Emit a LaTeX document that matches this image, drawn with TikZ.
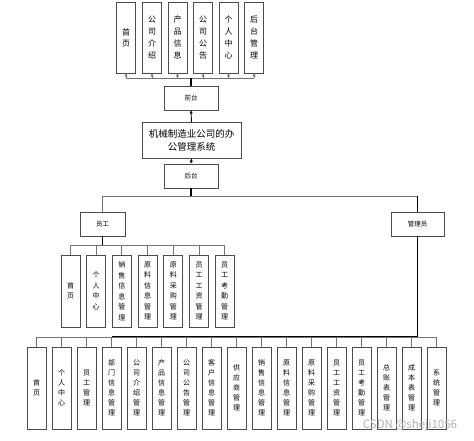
\documentclass[tikz,border=0pt]{standalone}
\usepackage{fontspec}
\setmainfont{Noto Sans CJK SC}
\usetikzlibrary{arrows.meta}

\tikzset{
  box/.style={draw=black!70, line width=0.9pt, fill=white, align=center,
    inner sep=0pt, font=\fontsize{6.5}{8}\selectfont},
  colbox/.style={box, minimum width=19pt, font=\fontsize{7}{#1}\selectfont},
  bus/.style={draw=black!55, line width=0.9pt},
  trunk/.style={draw=black, line width=1.5pt},
  tip/.style={-{Triangle[length=3pt,width=3pt]}}
}

\begin{document}
\begin{tikzpicture}[x=1pt,y=-1pt]
\useasboundingbox (0,0) rectangle (474,440);

% rangée du haut
\node[colbox=11, minimum height=71pt, font=\fontsize{8}{11}\selectfont] (q1) at (126,37.5) {首\\页};
\node[colbox=12, minimum height=71pt, font=\fontsize{8}{12}\selectfont] (q2) at (152,37.5) {公\\司\\介\\绍};
\node[colbox=12, minimum height=71pt, font=\fontsize{8}{12}\selectfont] (q3) at (177.5,37.5) {产\\品\\信\\息};
\node[colbox=12, minimum height=71pt, font=\fontsize{8}{12}\selectfont] (q4) at (203,37.5) {公\\司\\公\\告};
\node[colbox=12, minimum height=71pt, font=\fontsize{8}{12}\selectfont] (q5) at (228.5,37.5) {个\\人\\中\\心};
\node[colbox=12, minimum height=71pt, font=\fontsize{8}{12}\selectfont] (q6) at (254,37.5) {后\\台\\管\\理};

\node[box, minimum width=54pt, minimum height=24pt] (qt) at (191,98) {前台};
\node[box, minimum width=99pt, minimum height=36pt, font=\fontsize{9.5}{13}\selectfont]
  (sys) at (191.5,140.5) {机械制造业公司的办\\公管理系统};
\node[box, minimum width=54pt, minimum height=24pt] (ht) at (191,176) {后台};

\node[box, minimum width=45pt, minimum height=24pt] (yg) at (102.5,224) {员工};
\node[box, minimum width=53pt, minimum height=24pt] (gly) at (417.5,224) {管理员};

%员工
\node[colbox=10.5, minimum height=72pt] (y1) at (70.5,291) {首\\页};
\node[colbox=10.5, minimum height=72pt] (y2) at (96.2,291) {个\\人\\中\\心};
\node[colbox=10.5, minimum height=72pt] (y3) at (121.9,291) {销\\售\\信\\息\\管\\理};
\node[colbox=10.5, minimum height=72pt] (y4) at (147.6,291) {原\\料\\信\\息\\管\\理};
\node[colbox=10.5, minimum height=72pt] (y5) at (173.3,291) {原\\料\\采\\购\\管\\理};
\node[colbox=10.5, minimum height=72pt] (y6) at (199,291) {员\\工\\工\\资\\管\\理};
\node[colbox=10.5, minimum height=72pt] (y7) at (224.7,291) {员\\工\\考\\勤\\管\\理};

% 管理员
\node[colbox=10, minimum height=82pt] (g1) at (36.5,388) {首\\页};
\node[colbox=10, minimum height=82pt] (g2) at (61.5,388) {个\\人\\中\\心};
\node[colbox=10, minimum height=82pt] (g3) at (86.5,388) {员\\工\\管\\理};
\node[colbox=10, minimum height=82pt] (g4) at (111.5,388) {部\\门\\信\\息\\管\\理};
\node[colbox=10, minimum height=82pt] (g5) at (136.5,388) {公\\司\\介\\绍\\管\\理};
\node[colbox=10, minimum height=82pt] (g6) at (161.5,388) {产\\品\\信\\息\\管\\理};
\node[colbox=10, minimum height=82pt] (g7) at (186.5,388) {公\\司\\公\\告\\管\\理};
\node[colbox=10, minimum height=82pt] (g8) at (211.5,388) {客\\户\\信\\息\\管\\理};
\node[colbox=10, minimum height=82pt] (g9) at (236.5,388) {供\\应\\商\\管\\理};
\node[colbox=10, minimum height=82pt] (g10) at (261.5,388) {销\\售\\信\\息\\管\\理};
\node[colbox=10, minimum height=82pt] (g11) at (286.5,388) {原\\料\\信\\息\\管\\理};
\node[colbox=10, minimum height=82pt] (g12) at (311.5,388) {原\\料\\采\\购\\管\\理};
\node[colbox=10, minimum height=82pt] (g13) at (336.5,388) {员\\工\\工\\资\\管\\理};
\node[colbox=10, minimum height=82pt] (g14) at (361.5,388) {员\\工\\考\\勤\\管\\理};
\node[colbox=10, minimum height=82pt] (g15) at (386.5,388) {总\\账\\表\\管\\理};
\node[colbox=10, minimum height=82pt] (g16) at (411.5,388) {成\\本\\表\\管\\理};
\node[colbox=10, minimum height=82pt] (g17) at (436.5,388) {系\\统\\管\\理};

% liaisons
\draw[bus] (q1.south |- 0,78) -- (q6.south |- 0,78);
\foreach \n in {q1,q2,q3,q4,q5,q6}
  \draw[bus, tip] (\n.south |- 0,78) -- (\n.south);
\draw[trunk] (qt.north) -- (qt.north |- 0,78);
\draw[tip, line width=0.9pt] (sys.north) -- (qt.south);
\draw[tip, line width=0.9pt] (sys.south) -- (ht.north);

\draw[trunk] (ht.south) -- (ht.south |- 0,196);
\draw[bus] (yg.north |- 0,196) -- (gly.north |- 0,196);
\draw[bus] (yg.north |- 0,196) -- (yg.north);
\draw[trunk] (gly.north |- 0,196) -- (gly.north);

\draw[trunk] (yg.south) -- (yg.south |- 0,245);
\draw[bus] (y1.north |- 0,245) -- (y7.north |- 0,245);
\foreach \n in {y1,y2,y3,y4,y5,y6,y7}
  \draw[bus] (\n.north |- 0,245) -- (\n.north);

\draw[trunk] (gly.south) -- (gly.south |- 0,337) -- (g4.north |- 0,337);
\draw[bus] (g1.north |- 0,337) -- (g17.north |- 0,337);
\foreach \n in {g1,g2,g3,g4,g5,g6,g7,g8,g9,g10,g11,g12,g13,g14,g15,g16,g17}
  \draw[bus] (\n.north |- 0,337) -- (\n.north);

\node[text=black!30, font=\fontsize{11.5}{12}\selectfont] (wm) at (410,425) {CSDN @sheji1056};
\end{tikzpicture}
\end{document}
